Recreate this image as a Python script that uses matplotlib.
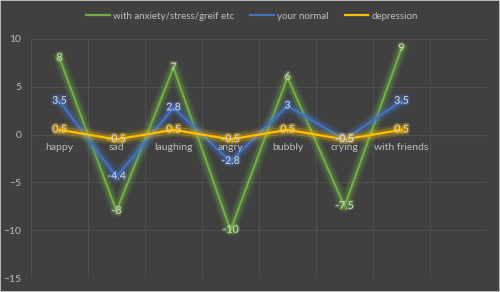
import matplotlib.pyplot as plt
import matplotlib.patheffects as pe
from matplotlib.lines import Line2D

categories = ['happy', 'sad', 'laughing', 'angry', 'bubbly', 'crying', 'with friends']
anxiety = [8, -8, 7, -10, 6, -7.5, 9]
normal = [3.5, -4.4, 2.8, -2.8, 3, -0.5, 3.5]
depression = [0.5, -0.5, 0.5, -0.5, 0.5, -0.5, 0.5]

series = [
    ('with anxiety/stress/greif etc', anxiety, '#70ad47'),
    ('your normal', normal, '#4472c4'),
    ('depression', depression, '#ffc000'),
]

bg = '#404040'
txt = '#bfbfbf'
plt.rcParams['font.family'] = ['Lato', 'DejaVu Sans']

fig = plt.figure(figsize=(5, 2.92), dpi=100, facecolor=bg)
fig.patches.append(plt.Rectangle((0, 0), 1, 1, transform=fig.transFigure,
                                 fill=False, edgecolor='#d0d0d0', linewidth=1.2))
ax = fig.add_axes([31 / 500, 1 - 278 / 292, 456 / 500, (278 - 39) / 292])
ax.set_facecolor(bg)

x = list(range(len(categories)))
handles = []
for name, vals, col in series:
    glow = [pe.Stroke(linewidth=9, foreground=col, alpha=0.12),
            pe.Stroke(linewidth=5.5, foreground=col, alpha=0.25),
            pe.Normal()]
    ax.plot(x, vals, color=col, linewidth=1.6, path_effects=glow, zorder=3)
    handles.append(Line2D([], [], color=col, linewidth=1.6, label=name))
    for xi, v in zip(x, vals):
        ax.text(xi, v, f'{v:g}', color='#d9d9d9', fontsize=7.5, ha='center', va='center', zorder=5,
                path_effects=[pe.withStroke(linewidth=2.5, foreground=col, alpha=0.35)])

ax.set_xlim(-0.5, len(categories) + 0.5)
ax.set_ylim(-15, 10)
ax.set_yticks([10, 5, 0, -5, -10, -15])
ax.set_xticks([i + 0.5 for i in range(-1, len(categories) + 1)], minor=False)
ax.set_xticklabels([])
ax.tick_params(length=0, colors=txt, labelsize=7.5)
ax.grid(True, color='#4f4f4f', linewidth=0.8)
ax.axhline(0, color='#5a5a5a', linewidth=0.8, zorder=1)
for s in ax.spines.values():
    s.set_visible(False)
ax.tick_params(axis='y', pad=7)

for xi, c in zip(x, categories):
    ax.text(xi, -0.85, c, color=txt, fontsize=7.5, ha='center', va='top', zorder=4)

ax.legend(handles=handles, loc='center', bbox_to_anchor=(0.485, 1.096), ncol=3, frameon=False,
          fontsize=7, labelcolor=txt, handlelength=2.4, columnspacing=1.6, handletextpad=0.4)

fig.savefig('out.png', dpi=100, facecolor=bg)
